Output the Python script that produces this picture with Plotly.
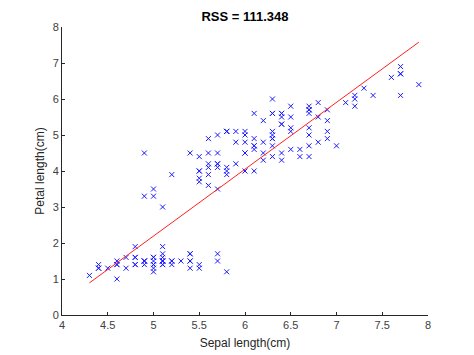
import numpy as np
import plotly.graph_objects as go

sepal_length = [5.1,4.9,4.7,4.6,5.0,5.4,4.6,5.0,4.4,4.9,5.4,4.8,4.8,4.3,5.8,5.7,5.4,5.1,5.7,5.1,5.4,5.1,4.6,5.1,4.8,5.0,5.0,5.2,5.2,4.7,4.8,5.4,5.2,5.5,4.9,5.0,5.5,4.9,4.4,5.1,5.0,4.5,4.4,5.0,5.1,4.8,5.1,4.6,5.3,5.0,
                7.0,6.4,6.9,5.5,6.5,5.7,6.3,4.9,6.6,5.2,5.0,5.9,6.0,6.1,5.6,6.7,5.6,5.8,6.2,5.6,5.9,6.1,6.3,6.1,6.4,6.6,6.8,6.7,6.0,5.7,5.5,5.5,5.8,6.0,5.4,6.0,6.7,6.3,5.6,5.5,5.5,6.1,5.8,5.0,5.6,5.7,5.7,6.2,5.1,5.7,
                6.3,5.8,7.1,6.3,6.5,7.6,4.9,7.3,6.7,7.2,6.5,6.4,6.8,5.7,5.8,6.4,6.5,7.7,7.7,6.0,6.9,5.6,7.7,6.3,6.7,7.2,6.2,6.1,6.4,7.2,7.4,7.9,6.4,6.3,6.1,7.7,6.3,6.4,6.0,6.9,6.7,6.9,5.8,6.8,6.7,6.7,6.3,6.5,6.2,5.9]
petal_length = [1.4,1.4,1.3,1.5,1.4,1.7,1.4,1.5,1.4,1.5,1.5,1.6,1.4,1.1,1.2,1.5,1.3,1.4,1.7,1.5,1.7,1.5,1.0,1.7,1.9,1.6,1.6,1.5,1.4,1.6,1.6,1.5,1.5,1.4,1.5,1.2,1.3,1.5,1.3,1.5,1.3,1.3,1.3,1.6,1.9,1.4,1.6,1.4,1.5,1.4,
                4.7,4.5,4.9,4.0,4.6,4.5,4.7,3.3,4.6,3.9,3.5,4.2,4.0,4.7,3.6,4.4,4.5,4.1,4.5,3.9,4.8,4.0,4.9,4.7,4.3,4.4,4.8,5.0,4.5,3.5,3.8,3.7,3.9,5.1,4.5,4.5,4.7,4.4,4.1,4.0,4.4,4.6,4.0,3.3,4.2,4.2,4.2,4.3,3.0,4.1,
                6.0,5.1,5.9,5.6,5.8,6.6,4.5,6.3,5.8,6.1,5.1,5.3,5.5,5.0,5.1,5.3,5.5,6.7,6.9,5.0,5.7,4.9,6.7,4.9,5.7,6.0,4.8,4.9,5.6,5.8,6.1,6.4,5.6,5.1,5.6,6.1,5.6,5.5,4.8,5.4,5.6,5.1,5.1,5.9,5.7,5.2,5.0,5.2,5.4,5.1]
x_ticks = [4, 4.5, 5, 5.5, 6, 6.5, 7, 7.5, 8]
y_ticks = [0, 1, 2, 3, 4, 5, 6, 7, 8]

x = np.array(sepal_length)
y = np.array(petal_length)
slope, intercept = np.polyfit(x, y, 1)
rss = float(np.sum((y - (slope * x + intercept)) ** 2))
line_x = np.array([x.min(), x.max()])
line_y = slope * line_x + intercept

fig = go.Figure()
fig.add_trace(go.Scatter(x=x, y=y, mode="markers",
                         marker=dict(symbol="x-thin", size=5, line=dict(color="#1a1aff", width=1), color="#1a1aff")))
fig.add_trace(go.Scatter(x=line_x, y=line_y, mode="lines", line=dict(color="#ff2020", width=1)))

axis_common = dict(showline=True, linecolor="#262626", linewidth=1, mirror=False, ticks="inside",
                   ticklen=3, tickcolor="#262626", showgrid=False, zeroline=False, automargin=False,
                   tickfont=dict(family="Liberation Sans, Arial", size=11, color="#404040"))
H = 347
fig.update_layout(
    width=466, height=H,
    margin=dict(l=54, r=46, t=19, b=40, autoexpand=False),
    paper_bgcolor="white", plot_bgcolor="white",
    showlegend=False,
    title=dict(text="<b>RSS = %.3f</b>" % rss, x=0.5, xref="paper", xanchor="center",
               y=1 - 8 / H, yanchor="middle", automargin=False,
               font=dict(family="Liberation Sans, Arial", size=13, color="black")),
    xaxis=dict(range=[4, 8], tickvals=x_ticks, ticktext=[("%g" % v) for v in x_ticks],
               title=dict(text="Sepal length(cm)", standoff=8,
                          font=dict(family="Liberation Sans, Arial", size=12, color="#262626")),
               **axis_common),
    yaxis=dict(range=[0, 8], tickvals=y_ticks,
               title=dict(text="Petal length(cm)", standoff=5,
                          font=dict(family="Liberation Sans, Arial", size=12, color="#262626")),
               **axis_common),
)
fig.write_html("out.html")
